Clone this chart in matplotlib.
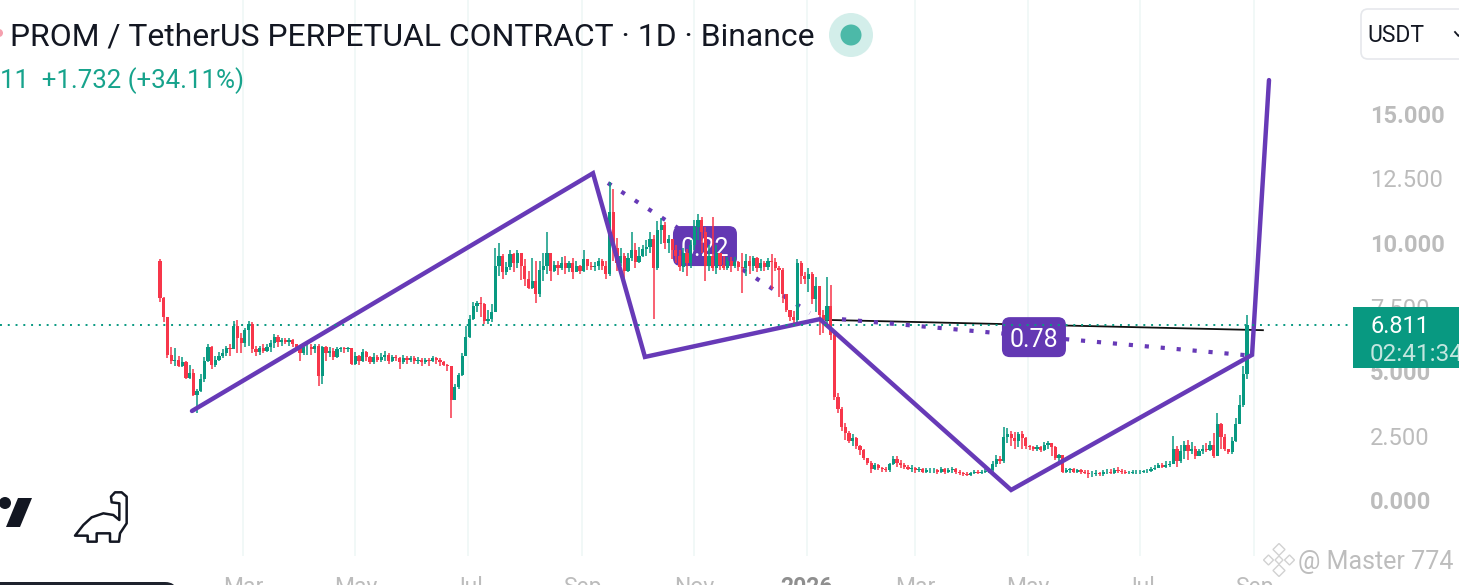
"""PROM / USDT perpetual daily chart with a drawn harmonic-style pattern."""
import numpy as np
import matplotlib
matplotlib.use("Agg")
import matplotlib.pyplot as plt
from matplotlib.patches import Rectangle, FancyBboxPatch, Circle, Polygon
from matplotlib.transforms import Affine2D

plt.rcParams["font.family"] = ["Roboto", "DejaVu Sans"]

W, H = 1459, 585
UP, DOWN = "#089981", "#f7364a"
PURPLE = "#673ab7"
AXIS_GREY = "#bcbcbc"

# candles: one every second day, counted from 15 Jan 2025 (day 14), open = previous close
first_day = 14
first_open = 9.3
closes = [
    7.85, 7.1, 5.65, 5.4, 5.45, 5.2, 5.35, 4.75, 4.95, 4.1,
    4.25, 4.7, 5.4, 5.95, 5.25, 5.45, 5.6, 5.7, 5.9, 5.85,
    6.75, 6.3, 6.1, 6.6, 6.85, 5.85, 5.75, 5.9, 5.8, 5.95,
    6.1, 6.35, 6.15, 6.2, 6.15, 6.2, 6.05, 5.95, 5.7, 5.95,
    5.95, 5.85, 6.0, 4.8, 5.95, 5.7, 5.8, 5.55, 5.85, 5.9,
    5.85, 5.9, 5.3, 5.6, 5.4, 5.75, 5.55, 5.35, 5.55, 5.45,
    5.55, 5.65, 5.4, 5.55, 5.5, 5.35, 5.5, 5.45, 5.5, 5.4,
    5.45, 5.35, 5.45, 5.4, 5.5, 5.45, 5.35, 5.25, 5.2, 3.9,
    4.4, 4.85, 5.6, 6.35, 7.05, 7.55, 7.65, 7.6, 6.95, 7.05,
    7.3, 9.1, 9.5, 8.85, 9.05, 9.55, 9.2, 9.6, 9.1, 8.6,
    8.25, 8.5, 8.0, 8.95, 9.1, 9.6, 8.9, 9.15, 9.0, 9.2,
    9.0, 9.2, 8.85, 9.1, 8.9, 9.35, 9.1, 9.05, 9.1, 9.3,
    9.1, 8.8, 11.2, 9.8, 9.2, 9.5, 8.9, 9.4, 9.7, 9.25,
    9.5, 9.75, 9.85, 10.15, 9.0, 10.5, 10.7, 10.0, 10.15, 9.7,
    9.5, 9.05, 9.6, 9.2, 9.9, 10.6, 10.9, 10.4, 9.1, 9.5,
    9.0, 9.6, 9.15, 9.0, 9.3, 9.1, 9.25, 9.05, 9.0, 9.3,
    9.1, 9.4, 9.0, 9.2, 9.05, 9.3, 9.25, 9.0, 8.95, 8.0,
    7.4, 7.1, 7.0, 9.2, 8.7, 8.6, 8.8, 7.8, 8.3, 7.2,
    7.0, 7.55, 6.4, 4.0, 3.55, 2.85, 2.6, 2.3, 2.4, 2.1,
    1.95, 1.65, 1.45, 1.2, 1.35, 1.25, 1.2, 1.15, 1.4, 1.6,
    1.45, 1.35, 1.3, 1.2, 1.25, 1.15, 1.2, 1.1, 1.15, 1.15,
    1.15, 1.1, 1.2, 1.1, 1.15, 1.2, 1.1, 1.05, 1.0, 0.98,
    1.05, 1.08, 1.05, 1.1, 1.12, 1.15, 1.4, 1.6, 1.5, 2.45,
    2.55, 2.4, 2.3, 2.55, 2.4, 2.1, 2.05, 2.0, 2.05, 1.95,
    2.15, 2.2, 2.05, 1.65, 1.75, 1.1, 1.15, 1.2, 1.1, 1.15,
    1.1, 1.05, 1.0, 1.02, 1.05, 1.0, 1.08, 1.1, 1.05, 1.18,
    1.12, 1.1, 1.05, 1.05, 1.08, 1.08, 1.1, 1.12, 1.12, 1.2,
    1.25, 1.35, 1.3, 1.35, 1.4, 2.0, 1.5, 1.9, 2.15, 1.9,
    2.0, 1.7, 1.9, 2.0, 1.95, 2.15, 1.7, 2.95, 2.45, 2.0,
    1.85, 2.3, 2.95, 3.7, 4.9, 6.8,
]
highs = [
    9.37, 7.9, 7.05, 5.95, 5.9, 5.6, 5.55, 5.4, 5.25, 5.1,
    4.3, 4.9, 5.55, 6.05, 6.0, 5.6, 5.75, 5.85, 6.0, 6.05,
    6.95, 7.0, 6.5, 6.7, 6.95, 6.9, 6.0, 6.0, 6.05, 6.05,
    6.2, 6.45, 6.4, 6.3, 6.3, 6.3, 6.25, 6.05, 6.0, 6.0,
    6.05, 6.05, 6.05, 6.05, 6.0, 6.0, 5.95, 5.9, 5.95, 5.95,
    5.95, 5.95, 5.9, 5.75, 5.65, 5.85, 5.8, 5.6, 5.7, 5.65,
    5.7, 5.8, 5.7, 5.65, 5.65, 5.55, 5.65, 5.6, 5.6, 5.6,
    5.55, 5.5, 5.5, 5.5, 5.6, 5.55, 5.5, 5.4, 5.3, 5.2,
    4.5, 4.95, 5.7, 6.75, 7.2, 7.7, 7.75, 7.9, 7.65, 7.4,
    7.6, 9.8, 10.0, 9.55, 9.25, 9.7, 9.6, 9.7, 9.6, 9.35,
    8.9, 9.4, 9.3, 9.3, 9.6, 10.4, 9.6, 9.3, 9.3, 9.45,
    9.5, 9.3, 9.4, 9.3, 9.15, 9.7, 9.3, 9.25, 9.25, 9.4,
    9.35, 9.3, 12.35, 12.1, 10.2, 9.8, 9.6, 9.6, 10.4, 10.0,
    9.85, 9.9, 10.1, 10.4, 10.3, 10.85, 10.95, 10.8, 10.3, 10.1,
    9.9, 9.7, 9.8, 9.75, 10.1, 10.9, 11.1, 11.0, 10.6, 9.9,
    11.0, 9.9, 9.45, 9.5, 9.45, 9.45, 9.45, 9.3, 9.6, 9.55,
    9.5, 9.5, 9.45, 9.35, 9.3, 9.4, 9.55, 9.4, 9.1, 9.0,
    7.9, 7.4, 7.35, 9.35, 9.3, 8.85, 9.0, 8.85, 8.65, 8.2,
    7.4, 8.65, 8.35, 6.5, 4.15, 3.6, 3.0, 2.7, 2.55, 2.45,
    2.15, 2.0, 1.65, 1.5, 1.45, 1.4, 1.3, 1.3, 1.45, 1.7,
    1.7, 1.55, 1.45, 1.35, 1.35, 1.3, 1.3, 1.25, 1.25, 1.25,
    1.25, 1.2, 1.3, 1.25, 1.25, 1.3, 1.25, 1.15, 1.1, 1.08,
    1.1, 1.15, 1.15, 1.18, 1.2, 1.25, 1.5, 1.75, 1.7, 2.85,
    2.8, 2.7, 2.65, 2.65, 2.7, 2.45, 2.15, 2.1, 2.15, 2.1,
    2.25, 2.3, 2.2, 2.1, 1.8, 1.75, 1.25, 1.25, 1.25, 1.2,
    1.2, 1.15, 1.15, 1.12, 1.15, 1.1, 1.15, 1.2, 1.2, 1.25,
    1.3, 1.2, 1.15, 1.12, 1.15, 1.15, 1.15, 1.18, 1.2, 1.3,
    1.35, 1.45, 1.45, 1.5, 1.5, 2.5, 2.1, 2.15, 2.3, 2.35,
    2.25, 2.1, 2.0, 2.15, 2.2, 2.3, 2.6, 3.4, 3.0, 2.55,
    2.0, 2.45, 3.2, 4.1, 5.2, 7.2,
]
lows = [
    7.7, 6.9, 5.5, 5.3, 5.2, 5.15, 5.15, 4.7, 4.7, 4.05,
    3.4, 4.2, 4.6, 5.35, 5.1, 5.15, 5.4, 5.5, 5.6, 5.6,
    5.85, 5.7, 5.7, 5.95, 6.0, 5.7, 5.6, 5.65, 5.7, 5.75,
    5.75, 5.9, 5.95, 6.0, 6.05, 6.0, 5.95, 5.85, 5.4, 5.65,
    5.65, 5.65, 5.7, 4.45, 4.5, 5.4, 5.55, 5.45, 5.5, 5.75,
    5.7, 5.75, 5.25, 5.25, 5.25, 5.35, 5.4, 5.3, 5.3, 5.35,
    5.35, 5.4, 5.3, 5.35, 5.4, 5.1, 5.3, 5.3, 5.35, 5.3,
    5.3, 5.2, 5.3, 5.2, 5.35, 5.3, 5.2, 5.2, 5.0, 3.2,
    4.0, 4.3, 4.8, 5.7, 6.3, 7.0, 7.3, 7.1, 6.85, 6.85,
    6.9, 7.3, 8.7, 8.6, 8.75, 8.95, 8.85, 9.0, 8.55, 8.3,
    8.2, 8.2, 7.65, 7.9, 8.5, 8.8, 8.5, 8.85, 8.75, 8.95,
    8.8, 8.85, 8.6, 8.85, 8.8, 8.85, 8.95, 8.95, 8.9, 8.95,
    8.95, 8.6, 8.7, 9.3, 8.9, 9.1, 8.6, 8.85, 9.3, 9.0,
    9.2, 9.45, 9.5, 9.6, 7.05, 8.95, 9.95, 9.75, 9.6, 9.35,
    9.2, 8.9, 8.85, 8.7, 9.0, 9.7, 10.1, 9.6, 8.5, 8.9,
    8.9, 8.8, 8.95, 8.95, 8.95, 8.85, 9.0, 8.9, 8.05, 8.7,
    8.8, 8.9, 8.85, 8.9, 8.9, 8.95, 8.2, 8.9, 7.9, 7.65,
    7.3, 6.95, 6.85, 6.9, 8.4, 8.4, 8.1, 7.6, 7.3, 6.4,
    6.5, 6.85, 6.2, 3.9, 3.4, 2.7, 2.35, 2.2, 2.1, 2.0,
    1.75, 1.55, 1.35, 1.05, 1.15, 1.15, 1.1, 1.1, 1.1, 1.35,
    1.3, 1.25, 1.2, 1.15, 1.1, 1.05, 1.1, 1.05, 1.05, 1.05,
    1.05, 1.0, 1.05, 1.0, 1.05, 1.05, 1.0, 0.97, 0.93, 0.92,
    0.95, 1.0, 1.0, 1.0, 1.05, 1.05, 1.1, 1.3, 1.4, 1.45,
    2.2, 2.1, 2.0, 2.05, 2.0, 2.0, 1.95, 1.9, 1.9, 1.85,
    1.9, 2.0, 1.7, 1.55, 1.5, 1.05, 1.05, 1.05, 1.05, 1.05,
    1.0, 1.0, 0.85, 0.9, 0.95, 0.95, 0.95, 1.0, 1.0, 1.02,
    1.05, 1.0, 1.0, 1.0, 1.0, 1.02, 1.02, 1.05, 1.05, 1.08,
    1.15, 1.25, 1.25, 1.25, 1.3, 1.4, 1.3, 1.45, 1.6, 1.55,
    1.8, 1.6, 1.7, 1.8, 1.85, 1.9, 1.65, 1.9, 2.0, 1.9,
    1.8, 1.8, 2.25, 2.95, 3.6, 4.7,
]

# drawing tools, in days since 1 Jan 2025 and price
pattern_days = [31.3, 249.0, 277.2, 372.2, 476.0, 606.8, 616.0]
pattern_prices = [3.46, 12.7, 5.56, 7.03, 0.39, 5.64, 16.32]
ratio1_days = [257.1, 366.8]
ratio1_prices = [12.32, 7.27]
ratio2_days = [375.5, 604.7]
ratio2_prices = [7.08, 5.62]
trend_days = [375.5, 612.7]
trend_prices = [7.0, 6.6]
last_price = 6.811
label_days = [309.8, 488.4]
label_prices = [9.87, 6.33]
label_texts = ["0.22", "0.78"]

# axis labels
y_ticks = [0, 2.5, 5, 7.5, 10, 12.5, 15]
y_labels = ["0.000", "2.500", "5.000", "7.500", "10.000", "12.500", "15.000"]
y_bold = [True, False, True, False, True, False, True]
x_ticks = [59, 120, 181, 243, 304, 365, 424, 485, 546, 608]
x_labels = ["Mar", "May", "Jul", "Sep", "Nov", "2026", "Mar", "May", "Jul", "Sep"]

PX_PER_DAY = 1.842
PX_PER_UNIT = 25.73
PLOT_RIGHT = 1353
PLOT_BOTTOM = 556

fig = plt.figure(figsize=(W / 100, H / 100), dpi=100)
ax = fig.add_axes([0, (H - PLOT_BOTTOM) / H, PLOT_RIGHT / W, PLOT_BOTTOM / H])
ax.set_xlim(59 - 243 / PX_PER_DAY, 59 + (PLOT_RIGHT - 243) / PX_PER_DAY)
ax.set_ylim((500 - PLOT_BOTTOM) / PX_PER_UNIT, 500 / PX_PER_UNIT)
for spine in ax.spines.values():
    spine.set_visible(False)

# figure pixels, origin top left like the screenshot
px = Affine2D().scale(1, -1).translate(0, H)

ax.set_xticks(x_ticks, x_labels)
ax.yaxis.tick_right()
ax.set_yticks(y_ticks, y_labels)
ax.tick_params(axis="x", length=0, pad=14.5, labelsize=16.5, labelcolor=AXIS_GREY)
ax.tick_params(axis="y", length=0, pad=12, labelsize=17, labelcolor=AXIS_GREY)
for lab, bold in zip(ax.get_yticklabels(), y_bold):
    lab.set_fontweight("bold" if bold else "normal")
year_lab = ax.get_xticklabels()[5]
year_lab.set_fontweight("bold")
year_lab.set_color("#8f8f8f")
ax.grid(True, axis="x", color="#eef6f5", lw=1.1)
ax.set_axisbelow(True)

# last price, trend and ratio lines sit under the candles
ax.axhline(last_price, color=UP, lw=1.4, ls=(0, (1, 3)), zorder=4.5)
ax.plot(trend_days, trend_prices, color="#111111", lw=1.3, zorder=2)
for days, prices in [(ratio1_days, ratio1_prices), (ratio2_days, ratio2_prices)]:
    ax.plot(days, prices, color=PURPLE, lw=3.0, ls=(0, (1, 2.84)), zorder=2)

# ratio labels are fixed-size pixel boxes anchored on the data
for day, price, txt in zip(label_days, label_prices, label_texts):
    cx, cy = ax.transData.transform((day, price))
    ax.add_patch(FancyBboxPatch((-32, -20), 64, 40, boxstyle="round,pad=0,rounding_size=8",
                                fc="#6338b3", ec="none", zorder=2.6,
                                transform=Affine2D().translate(cx, cy)))
    ax.text(day, price, txt, color="white", fontsize=18, ha="center", va="center_baseline", zorder=2.7)

# candles
closes = np.array(closes)
highs = np.array(highs)
lows = np.array(lows)
opens = np.r_[first_open, closes[:-1]]
days = first_day + 2 * np.arange(len(closes))
colors = np.where(closes >= opens, UP, DOWN)
ax.vlines(days, lows, highs, colors=colors, lw=1.1, zorder=3)
ax.bar(days, np.abs(closes - opens), bottom=np.minimum(opens, closes), width=1.75,
       color=colors, lw=0, zorder=3.1)

ax.plot(pattern_days, pattern_prices, color=PURPLE, lw=3.2, solid_joinstyle="miter",
        solid_capstyle="round", zorder=4)

# header
fig.text(10 / W, 1 - 45 / H, "PROM / TetherUS PERPETUAL CONTRACT · 1D · Binance",
         color="#131722", fontsize=22.95, va="baseline")
fig.text(0.5 / W, 1 - 88 / H, "11  +1.732 (+34.11%)", color="#17a38c", fontsize=18.6, va="baseline")
fig.add_artist(Circle((851, 35), 22, fc="#d3eeea", ec="none", transform=px, zorder=2))
fig.add_artist(Circle((851, 35), 10.5, fc="#4cb9a8", ec="none", transform=px, zorder=3))
fig.add_artist(Circle((-1, 33), 4, fc="#f5a0ae", ec="none", transform=px, zorder=2))

# currency button
fig.add_artist(FancyBboxPatch((1361, 9), 130, 50, boxstyle="round,pad=0,rounding_size=7",
                              fc="white", ec="#e6e8ec", lw=1.2, transform=px, zorder=2))
fig.text(1367 / W, 1 - 33 / H, "USDT", color="#131722", fontsize=16.5, va="center_baseline", zorder=3)
fig.add_artist(plt.Line2D([1455, 1458.5, 1462], [32, 36, 32], color="#131722", lw=1.3,
                          transform=px, zorder=3))

# live price tag
fig.add_artist(Rectangle((PLOT_RIGHT, 307), W - PLOT_RIGHT, 61, fc=UP, ec="none", transform=px, zorder=4))
fig.text(1370 / W, 1 - 324 / H, "6.811", color="white", fontsize=17, va="center_baseline", zorder=5)
fig.text(1370 / W, 1 - 352 / H, "02:41:34", color="#c3e6df", fontsize=17.5, va="center_baseline", zorder=5)

# logo and dinosaur icons
fig.add_artist(Circle((5, 503), 6, fc="#131722", ec="none", transform=px, zorder=2))
fig.add_artist(Polygon([(18, 498), (32, 498), (20, 527), (6, 527)], fc="#131722", ec="none",
                       transform=px, zorder=2))
dino = np.array([(225, 197), (250, 165), (275, 142), (310, 130), (340, 135), (358, 150), (358, 100),
                 (335, 97), (333, 80), (345, 67), (365, 67), (380, 80), (380, 160), (360, 190),
                 (357, 215), (330, 215), (330, 190), (290, 190), (290, 215), (263, 215),
                 (263, 197), (225, 197)], dtype=float) / 3 + [0, 470]
fig.add_artist(Polygon(dino, closed=True, fc="none", ec="#131722", lw=1.8, joinstyle="round",
                       transform=px, zorder=2))

# dark bar at the bottom edge
fig.add_artist(FancyBboxPatch((-30, 582), 207, 30, boxstyle="round,pad=0,rounding_size=12",
                              fc="#1e222d", ec="none", transform=px, zorder=2))

# watermark
for dx, dy, r in [(1279, 549.5, 6), (1279, 570.5, 6), (1268.5, 560, 5), (1289.5, 560, 5), (1279, 560, 4)]:
    fig.add_artist(Polygon([(dx - r, dy), (dx, dy - r), (dx + r, dy), (dx, dy + r)], fc="white",
                           ec="#d2d2d2", lw=1.0, transform=px, zorder=6))
fig.text(1298 / W, 1 - 560 / H, "@ Master 774", color="#bdbdbd", fontsize=18,
         va="center_baseline", zorder=6)

fig.savefig("out.png", dpi=100)
